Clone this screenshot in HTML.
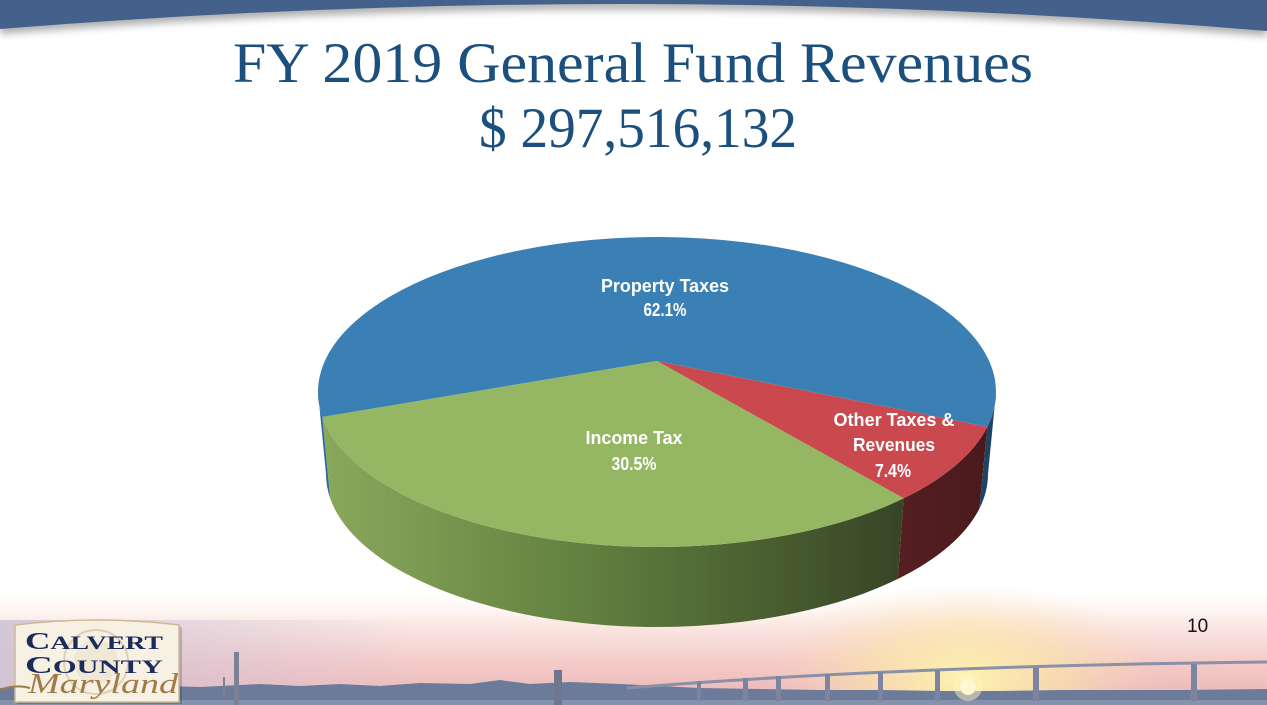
<!DOCTYPE html>
<html>
<head>
<meta charset="utf-8">
<style>
  html, body { margin:0; padding:0; background:#ffffff; width:1267px; height:705px; overflow:hidden; }
  svg { display:block; overflow:hidden; position:absolute; left:0; top:0; }
</style>
</head>
<body>
<svg width="1267" height="705" viewBox="0 0 1267 705" xmlns="http://www.w3.org/2000/svg">
  <defs>
    <clipPath id="frame"><rect x="0" y="0" width="1267" height="705"/></clipPath>
    <filter id="blur4" x="-10%" y="-50%" width="120%" height="200%">
      <feGaussianBlur stdDeviation="4"/>
    </filter>
    <linearGradient id="sky" x1="0" y1="0" x2="0" y2="1">
      <stop offset="0" stop-color="#ffffff" stop-opacity="0"/>
      <stop offset="0.3" stop-color="#fcebe6"/>
      <stop offset="0.65" stop-color="#f4cac8"/>
      <stop offset="1" stop-color="#eab4b8"/>
    </linearGradient>
    <radialGradient id="sun" gradientUnits="userSpaceOnUse" cx="965" cy="678" r="200"
      gradientTransform="translate(965 678) scale(1 0.475) translate(-965 -678)">
      <stop offset="0" stop-color="#fff6b0" stop-opacity="0.95"/>
      <stop offset="0.5" stop-color="#fbe6a6" stop-opacity="0.6"/>
      <stop offset="1" stop-color="#f8d8b8" stop-opacity="0"/>
    </radialGradient>
    <linearGradient id="lav" x1="0" y1="0" x2="1" y2="0">
      <stop offset="0" stop-color="#cfc3d8" stop-opacity="0.9"/>
      <stop offset="1" stop-color="#cfc3d8" stop-opacity="0"/>
    </linearGradient>
    <linearGradient id="greenSide" gradientUnits="userSpaceOnUse" x1="326" y1="0" x2="903" y2="0">
      <stop offset="0" stop-color="#8aa85b"/>
      <stop offset="0.45" stop-color="#62803f"/>
      <stop offset="1" stop-color="#374525"/>
    </linearGradient>
    <linearGradient id="redSide" gradientUnits="userSpaceOnUse" x1="897" y1="0" x2="987" y2="0">
      <stop offset="0" stop-color="#561e21"/>
      <stop offset="1" stop-color="#4a1a1d"/>
    </linearGradient>
  </defs>

  <g clip-path="url(#frame)">
  <!-- top band -->
  <path d="M0,0 H1267 V36 Q633,-16 0,34 Z" fill="#6a6a6a" opacity="0.55" filter="url(#blur4)"/>
  <path d="M0,0 H1267 V31 Q633,-22 0,29 Z" fill="#43618a"/>

  <!-- bottom sunset photo -->
  <rect x="0" y="585" width="1267" height="120" fill="url(#sky)"/>
  <rect x="0" y="620" width="420" height="85" fill="url(#lav)"/>
  <rect x="765" y="585" width="400" height="120" fill="url(#sun)"/>
  <!-- land / tree line -->
  <path d="M0,688 L40,686 L80,688 L140,685 L200,687 L260,684 L300,686 L340,684 L380,686 L420,683 L470,684 L500,680 L530,684 L570,682 L620,684 L660,686 L700,688 L760,689 L820,690 L880,690 L940,691 L1000,691 L1060,690 L1120,690 L1180,690 L1267,689 L1267,705 L0,705 Z" fill="#6d7b9a"/>
  <rect x="0" y="700" width="1267" height="5" fill="#8592ae"/>
  <!-- posts -->
  <rect x="234" y="652" width="5" height="53" fill="#7b8296"/>
  <rect x="223" y="677" width="2" height="20" fill="#7b8296"/>
  <rect x="554" y="670" width="8" height="35" fill="#6f778e"/>
  <!-- sun -->
  <circle cx="968" cy="687" r="8" fill="#fffbe8"/>
  <circle cx="968" cy="687" r="14" fill="#fff3c0" opacity="0.5"/>
  <!-- bridge -->
  <path d="M627,688 Q900,666 1267,662" fill="none" stroke="#8a90a8" stroke-width="3"/>
  <g fill="#7c84a0">
    <rect x="697" y="681" width="4" height="20"/>
    <rect x="743" y="678" width="5" height="23"/>
    <rect x="776" y="676" width="5" height="25"/>
    <rect x="825" y="674" width="5" height="27"/>
    <rect x="878" y="672" width="5" height="29"/>
    <rect x="935" y="670" width="5" height="31"/>
    <rect x="1033" y="668" width="6" height="33"/>
    <rect x="1191" y="664" width="6" height="37"/>
  </g>

  <!-- title -->
  <g font-family="'Liberation Serif', 'DejaVu Serif', serif" fill="#1b4f7e">
    <text x="233" y="82" font-size="57" textLength="800" lengthAdjust="spacingAndGlyphs">FY 2019 General Fund Revenues</text>
    <text x="479" y="147" font-size="57" textLength="318" lengthAdjust="spacingAndGlyphs">$ 297,516,132</text>
  </g>

  <!-- pie sides -->
  <path d="M318,392 A339,155 0 0 0 322.4,417 L330.3,498.7 A331,153 0 0 1 326,474 Z" fill="#2f6b9c"/>
  <path d="M322.4,417 A339,155 0 0 0 903.7,498.3 L897.9,578.9 A331,153 0 0 1 330.3,498.7 Z" fill="url(#greenSide)"/>
  <path d="M903.7,498.3 A339,155 0 0 0 987.3,426.9 L979.5,508.4 A331,153 0 0 1 897.9,578.9 Z" fill="url(#redSide)"/>
  <path d="M987.3,426.9 A339,155 0 0 0 996,392 L988,474 A331,153 0 0 1 979.5,508.4 Z" fill="#1e4263"/>

  <!-- pie top -->
  <path d="M657,361 L987.3,426.9 A339,155 0 1 0 322.4,417 Z" fill="#3a80b5"/>
  <path d="M657,361 L322.4,417 A339,155 0 0 0 903.7,498.3 Z" fill="#95b662"/>
  <path d="M657,361 L903.7,498.3 A339,155 0 0 0 987.3,426.9 Z" fill="#c9494f"/>

  <!-- labels -->
  <g font-family="'Liberation Sans', 'DejaVu Sans', sans-serif" font-weight="bold" font-size="18.5" fill="#ffffff" text-anchor="middle">
    <text x="665" y="292" textLength="128" lengthAdjust="spacingAndGlyphs">Property Taxes</text>
    <text x="665" y="316" textLength="43" lengthAdjust="spacingAndGlyphs">62.1%</text>
    <text x="634" y="444" textLength="97" lengthAdjust="spacingAndGlyphs">Income Tax</text>
    <text x="634" y="470" textLength="45" lengthAdjust="spacingAndGlyphs">30.5%</text>
    <text x="894" y="426" textLength="121" lengthAdjust="spacingAndGlyphs">Other Taxes &amp;</text>
    <text x="894" y="451" textLength="82" lengthAdjust="spacingAndGlyphs">Revenues</text>
    <text x="893" y="477" textLength="36" lengthAdjust="spacingAndGlyphs">7.4%</text>
  </g>

  <!-- page number -->
  <text x="1187" y="632" font-family="'Liberation Sans', Arial, sans-serif" font-size="19" fill="#111">10</text>

  <!-- logo -->
  <path d="M17,627 Q98,617 182,627 L182,704 L17,704 Z" fill="#000" opacity="0.18"/>
  <path d="M15,625 Q97,615 179,625 L179,702 L15,702 Z" fill="#f7f1e4" stroke="#cdb994" stroke-width="1.5"/>
  <circle cx="96" cy="662" r="32" fill="none" stroke="#ddd0b8" stroke-width="2"/>
  <circle cx="96" cy="662" r="22" fill="#ece2cf" opacity="0.7"/>
  <g font-family="'Liberation Serif', 'DejaVu Serif', serif" fill="#1d2b5c" font-weight="bold">
    <text x="25" y="649" textLength="138" lengthAdjust="spacingAndGlyphs"><tspan font-size="24">C</tspan><tspan font-size="19">ALVERT</tspan></text>
    <text x="25" y="673" textLength="138" lengthAdjust="spacingAndGlyphs"><tspan font-size="24">C</tspan><tspan font-size="19">OUNTY</tspan></text>
  </g>
  <text x="28" y="693" font-family="'Liberation Serif', 'DejaVu Serif', serif" font-style="italic" font-size="29" fill="#a07a48" textLength="150" lengthAdjust="spacingAndGlyphs">Maryland</text>
  <path d="M0,690 Q15,684 30,688" fill="none" stroke="#a07a48" stroke-width="2"/>
  </g>
</svg>
</body>
</html>
